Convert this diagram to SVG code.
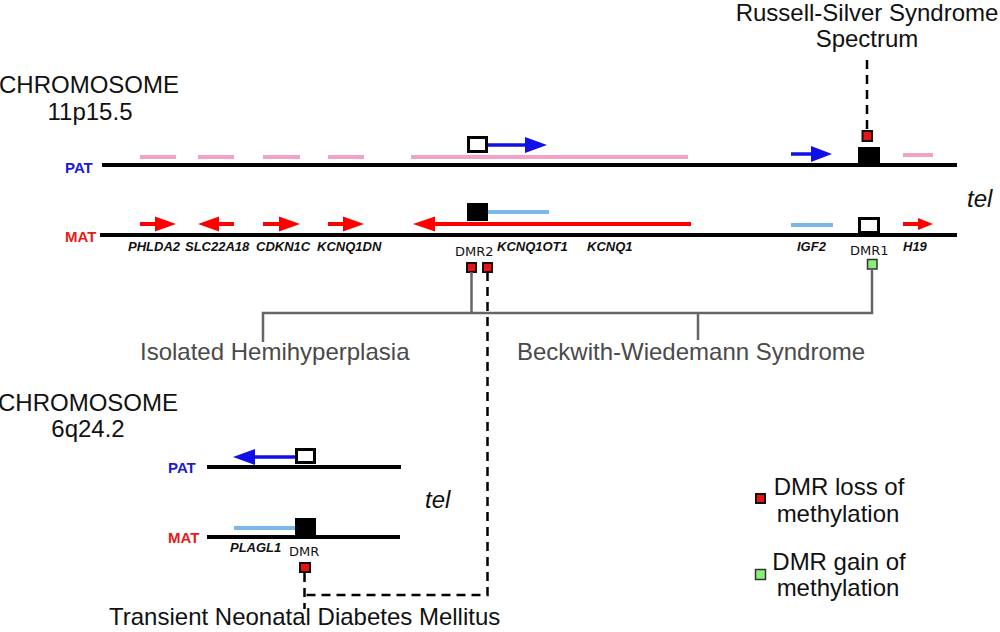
<svg xmlns="http://www.w3.org/2000/svg" width="1000" height="632" viewBox="0 0 1000 632">
<style>
.big{font-family:"Liberation Sans",Arial,sans-serif;font-size:24px;fill:#111}
.grey{fill:#4a4a4a}
.gene{font-family:"Liberation Sans",Arial,sans-serif;font-size:13px;font-weight:bold;font-style:italic;fill:#111}
.dmr{font-family:"DejaVu Sans",Verdana,sans-serif;font-size:13px;fill:#111}
.pat{font-family:"Liberation Sans",Arial,sans-serif;font-size:15px;font-weight:bold;fill:#1a1ad8}
.mat{font-family:"Liberation Sans",Arial,sans-serif;font-size:15px;font-weight:bold;fill:#e81a1a}
.tel{font-family:"Liberation Sans",Arial,sans-serif;font-size:24px;font-style:italic;fill:#111}
.chr{stroke:#000;stroke-width:4;fill:none}
.pink{stroke:#f2a2c6;stroke-width:4}
.lblue{stroke:#7ab8ec;stroke-width:4}
.rshaft{stroke:#ff0000;stroke-width:4}
.rhead{fill:#ff0000}
.bshaft{stroke:#1010e6;stroke-width:3.5}
.bhead{fill:#1010e6}
.open{fill:#fff;stroke:#000;stroke-width:3}
.solid{fill:#000}
.loss{fill:#ee1111;stroke:#111;stroke-width:2}
.gain{fill:#88ee77;stroke:#333;stroke-width:1.5}
.gline{stroke:#666;stroke-width:2.5;fill:none}
.dash{stroke:#000;stroke-width:2.5;fill:none;stroke-dasharray:9 6}
</style>

<g id="title-11">
<text class="big" x="89" y="93" text-anchor="middle">CHROMOSOME</text>
<text class="big" x="90" y="120" text-anchor="middle">11p15.5</text>
</g>

<g id="rss-label">
<text class="big" x="867" y="21" text-anchor="middle">Russell-Silver Syndrome</text>
<text class="big" x="867" y="47" text-anchor="middle">Spectrum</text>
</g>

<g id="chr11-pat">
<text class="pat" x="65" y="173">PAT</text>
<line class="chr" x1="102" y1="165" x2="957" y2="165"/>
<line class="pink" x1="140" y1="157" x2="176" y2="157"/>
<line class="pink" x1="198" y1="157" x2="234" y2="157"/>
<line class="pink" x1="263" y1="157" x2="300" y2="157"/>
<line class="pink" x1="328" y1="157" x2="364" y2="157"/>
<line class="pink" x1="411" y1="157" x2="688" y2="157"/>
<line class="pink" x1="903" y1="155" x2="933" y2="155"/>
<line class="bshaft" x1="488" y1="145" x2="527" y2="145"/>
<polygon class="bhead" points="525,137 547,145 525,153"/>
<rect class="open" x="468.5" y="137.5" width="18" height="14"/>
<line class="bshaft" x1="791" y1="154" x2="814" y2="154"/>
<polygon class="bhead" points="811,146 832,154 811,162"/>
<rect class="solid" x="858" y="147" width="22" height="18"/>
</g>

<g id="chr11-mat">
<text class="mat" x="65" y="242">MAT</text>
<line class="chr" x1="100" y1="235" x2="957" y2="235"/>
<line class="rshaft" x1="140" y1="224" x2="157" y2="224"/>
<polygon class="rhead" points="155,216.5 176,224 155,231.5"/>
<line class="rshaft" x1="217" y1="224" x2="234" y2="224"/>
<polygon class="rhead" points="219,216.5 198,224 219,231.5"/>
<line class="rshaft" x1="263" y1="224" x2="281" y2="224"/>
<polygon class="rhead" points="279,216.5 300,224 279,231.5"/>
<line class="rshaft" x1="328" y1="224" x2="345" y2="224"/>
<polygon class="rhead" points="343,216.5 364,224 343,231.5"/>
<line class="lblue" x1="488" y1="212" x2="549" y2="212"/>
<rect class="solid" x="467" y="203" width="21" height="18"/>
<line class="rshaft" x1="433" y1="224" x2="691" y2="224"/>
<polygon class="rhead" points="435,216.5 413,224 435,231.5"/>
<line class="lblue" x1="791" y1="225" x2="833" y2="225"/>
<rect class="open" x="859.5" y="218.5" width="19" height="14"/>
<line class="rshaft" x1="903" y1="224" x2="920" y2="224"/>
<polygon class="rhead" points="918,218 933,224 918,230"/>
<text class="gene" x="128" y="251">PHLDA2</text>
<text class="gene" x="185" y="251">SLC22A18</text>
<text class="gene" x="256" y="251">CDKN1C</text>
<text class="gene" x="317" y="251">KCNQ1DN</text>
<text class="gene" x="497" y="251">KCNQ1OT1</text>
<text class="gene" x="587" y="251">KCNQ1</text>
<text class="gene" x="797" y="251">IGF2</text>
<text class="gene" x="903" y="251">H19</text>
<text class="tel" x="967" y="207">tel</text>
</g>

<g id="dmr2">
<text class="dmr" x="455" y="256">DMR2</text>
<rect class="loss" x="467" y="263" width="9" height="9"/>
<rect class="loss" x="483" y="263" width="9" height="9"/>
</g>

<g id="dmr1">
<text class="dmr" x="850" y="255">DMR1</text>
<rect class="gain" x="867.5" y="259.5" width="9.5" height="9.5"/>
</g>

<g id="dmr-rss">
<rect class="loss" x="862.5" y="131" width="9.5" height="10"/>
</g>

<g id="disease-labels">
<text class="big grey" x="140" y="360">Isolated Hemihyperplasia</text>
<text class="big grey" x="517" y="360">Beckwith-Wiedemann Syndrome</text>
</g>

<g id="title-6">
<text class="big" x="88" y="411" text-anchor="middle">CHROMOSOME</text>
<text class="big" x="88" y="437" text-anchor="middle">6q24.2</text>
</g>

<g id="chr6-pat">
<text class="pat" x="168" y="473">PAT</text>
<line class="chr" x1="207" y1="467" x2="401" y2="467"/>
<line class="bshaft" x1="253" y1="457" x2="296" y2="457"/>
<polygon class="bhead" points="255,449 233,457 255,465"/>
<rect class="open" x="296.5" y="449.5" width="18" height="13"/>
</g>

<g id="chr6-mat">
<text class="mat" x="168" y="543">MAT</text>
<line class="chr" x1="207" y1="537" x2="400" y2="537"/>
<line class="lblue" x1="234" y1="528" x2="296" y2="528"/>
<rect class="solid" x="295" y="518" width="21" height="19"/>
<text class="gene" x="230" y="552">PLAGL1</text>
<text class="tel" x="425" y="508">tel</text>
</g>

<g id="dmr6">
<text class="dmr" x="289" y="556">DMR</text>
<rect class="loss" x="300" y="563" width="10" height="9"/>
</g>

<g id="tndm-label">
<text class="big" x="109" y="625">Transient Neonatal Diabetes Mellitus</text>
</g>

<g id="legend">
<rect class="loss" x="756" y="494" width="9" height="9"/>
<text class="big" x="839" y="495" text-anchor="middle">DMR loss of</text>
<text class="big" x="838" y="522" text-anchor="middle">methylation</text>
<rect class="gain" x="755.5" y="569.5" width="10" height="10"/>
<text class="big" x="839" y="570" text-anchor="middle">DMR gain of</text>
<text class="big" x="838" y="596" text-anchor="middle">methylation</text>
</g>

<g id="connectors">
<path class="gline" d="M471.5,272 V313"/>
<path class="gline" d="M263,342 V313 H872 V269"/>
<path class="gline" d="M698,313 V340"/>
<path class="dash" d="M487.5,272 V595 H304.5"/>
<path class="dash" d="M304.5,573 V609"/>
<path class="dash" d="M867,60 V131"/>
</g>
</svg>
